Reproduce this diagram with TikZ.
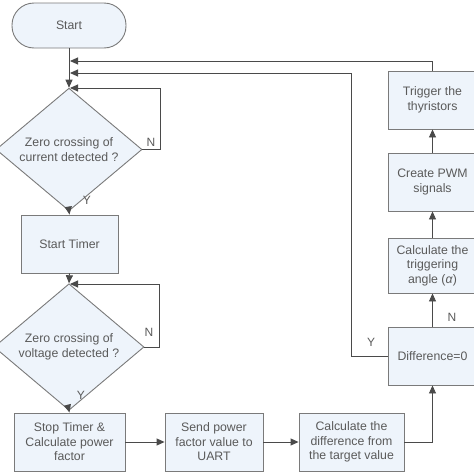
\documentclass[tikz,border=0pt]{standalone}
\usepackage{fontspec}
\setmainfont{Liberation Sans}
\usetikzlibrary{shapes.geometric,arrows.meta}
\definecolor{boxfill}{HTML}{EEF4FB}
\definecolor{boxline}{HTML}{7A7A7A}
\definecolor{conn}{HTML}{4A4A4A}
\definecolor{txt}{HTML}{5A5A5A}
\begin{document}
\begin{tikzpicture}[x=1pt,y=-1pt,
  every node/.style={font=\fontsize{12.3}{14.5}\selectfont, text=txt, align=center},
  procbox/.style={draw=boxline, fill=boxfill, line width=0.9pt, inner sep=0pt},
  decbox/.style={draw=boxline, fill=boxfill, line width=0.9pt, diamond, inner sep=0pt},
  lbl/.style={font=\fontsize{12}{14}\selectfont, text=txt},
  flow/.style={draw=conn, line width=0.9pt, -{Triangle[length=8pt,width=7pt]}},
  line/.style={draw=conn, line width=0.9pt}]
\useasboundingbox (0,0) rectangle (474,474);
% nodes
\node[procbox, rounded corners=22pt, minimum width=114pt, minimum height=45pt] (start) at (69,25.5) {Start};
\node[decbox, minimum width=146pt, minimum height=87pt] (d1) at (69,149.5) {Zero crossing of\\current detected ?};
\node[procbox, minimum width=97pt, minimum height=58pt] (timer) at (69.5,244) {Start Timer};
\node[decbox, minimum width=150pt, minimum height=94pt] (d2) at (69,347) {Zero crossing of\\voltage detected ?};
\node[procbox, minimum width=111pt, minimum height=58pt] (stop) at (69.5,442) {Stop Timer \&\\Calculate power\\factor};
\node[procbox, minimum width=98pt, minimum height=58pt] (send) at (214,442) {Send power\\factor value to\\UART};
\node[procbox, minimum width=105pt, minimum height=58pt] (cdiff) at (351.5,442) {Calculate the\\difference from\\the target value};
\node[procbox, minimum width=89pt, minimum height=58pt] (diff) at (432.5,356) {Difference=0};
\node[procbox, minimum width=89pt, minimum height=55pt] (trig) at (432.5,265.5) {Calculate the\\triggering\\angle (\textit{α})};
\node[procbox, minimum width=89pt, minimum height=58pt] (pwm) at (432.5,182) {Create PWM\\signals};
\node[procbox, minimum width=89pt, minimum height=58pt] (thy) at (432.5,100) {Trigger the\\thyristors};
% junction points on the main line
\coordinate (j1) at (70,61);
\coordinate (j2) at (70,73);
\coordinate (j3) at (70,88);
\coordinate (j4) at (70,284);
% connectors
\draw[flow] (start.south) -- (d1.north);
\draw[flow] (thy.north) |- (j1);
\draw[flow] (diff.west) -- (351,356) |- (j2);
\draw[flow] (d1.east) -- (160,149.5) |- (j3);
\draw[flow] (d1.south) -- (timer.north);
\draw[flow] (timer.south) -- (d2.north);
\draw[flow] (d2.east) -- (159,347) |- (j4);
\draw[flow] (d2.south) -- (stop.north);
\draw[flow] (stop.east) -- (send.west);
\draw[flow] (send.east) -- (cdiff.west);
\draw[flow] (cdiff.east) -| (diff.south);
\draw[flow] (diff.north) -- (trig.south);
\draw[flow] (trig.north) -- (pwm.south);
\draw[flow] (pwm.north) -- (thy.south);
% labels
\node[lbl] (n1) at (151,142) {N};
\node[lbl] (y1) at (87,200) {Y};
\node[lbl] (n2) at (149,332) {N};
\node[lbl] (y2) at (81,395) {Y};
\node[lbl] (y3) at (371,342) {Y};
\node[lbl] (n3) at (452,317) {N};
\end{tikzpicture}
\end{document}
